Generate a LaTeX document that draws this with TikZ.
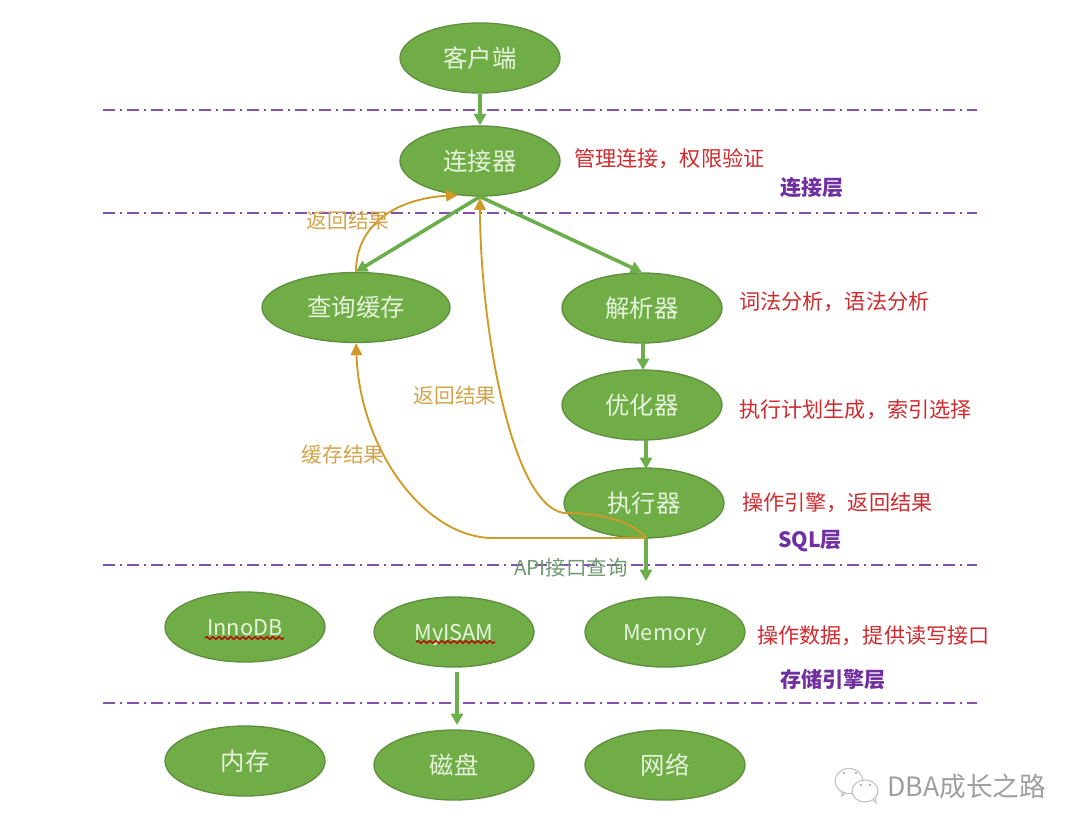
\documentclass[tikz,border=0pt]{standalone}
\usepackage{fontspec}
\setmainfont{Noto Sans CJK SC}
\usetikzlibrary{arrows.meta,decorations.pathmorphing,shapes.geometric}
\definecolor{gfill}{HTML}{70AD47}
\definecolor{gedge}{HTML}{5F8F3E}
\definecolor{gtext}{HTML}{E6F3DC}
\definecolor{garrow}{HTML}{6DAE4C}
\definecolor{orng}{HTML}{CF9A26}
\definecolor{orngt}{HTML}{D2A34A}
\definecolor{purp}{HTML}{7030A0}
\definecolor{redt}{HTML}{CF2A2E}
\definecolor{apit}{HTML}{6F9A72}
\tikzset{
  x=0.75pt,y=-0.75pt,
  ell/.style={ellipse,draw=gedge,fill=gfill,line width=1pt,text=gtext,inner sep=0pt,minimum height=52.5pt,minimum width=120pt,font=\fontsize{18.3}{20}\selectfont},
  wide/.style={minimum width=141pt},
  latin/.style={font=\fontsize{16.3}{20}\selectfont},
  sep/.style={draw=purp!85,line width=1pt,dash pattern=on 9pt off 3.5pt on 2pt off 3.5pt},
  flow/.style={draw=garrow,line width=2.7pt,-{Triangle[length=8.5pt,width=9pt]}},
  back/.style={draw=orng,line width=1.4pt,-{Triangle[length=9pt,width=8.5pt]}},
  note/.style={text=redt,inner sep=0pt,font=\fontsize{15.85}{17}\selectfont},
  layer/.style={text=purp,inner sep=0pt,font=\fontsize{15.8}{17}\selectfont\bfseries},
  ret/.style={text=orngt,inner sep=0pt,font=\fontsize{15.5}{17}\selectfont},
  squig/.style={draw=red!75!black,line width=1pt,decorate,decoration={snake,amplitude=1pt,segment length=4.5pt}},
}
\begin{document}
\begin{tikzpicture}
\useasboundingbox (0,0) rectangle (1080,834);
% separators
\coordinate (s1l) at (103,110); \coordinate (s1r) at (977,110);
\coordinate (s2l) at (103,213); \coordinate (s2r) at (977,213);
\coordinate (s3l) at (103,565); \coordinate (s3r) at (977,565);
\coordinate (s4l) at (103,703); \coordinate (s4r) at (977,703);
\draw[sep] (s1l) -- (s1r);
\draw[sep] (s2l) -- (s2r);
\draw[sep] (s3l) -- (s3r);
\draw[sep] (s4l) -- (s4r);
% nodes
\node[ell] (client) at (480,58) {客户端};
\node[ell] (conn) at (480,161) {连接器};
\node[ell,wide] (cache) at (356,307.5) {查询缓存};
\node[ell] (parser) at (642,308) {解析器};
\node[ell] (opt) at (642,405) {优化器};
\node[ell] (exec) at (644,503) {执行器};
\node[ell,latin] (inno) at (245,627) {\raisebox{-6.5pt}[0pt][0pt]{InnoDB}};
\node[ell,latin] (myisam) at (454,632) {\raisebox{-6pt}[0pt][0pt]{MyISAM}};
\node[ell,latin] (memory) at (665,632) {\raisebox{-6pt}[0pt][0pt]{Memory}};
\node[ell] (ram) at (245,761) {内存};
\node[ell] (disk) at (454,765) {磁盘};
\node[ell] (net) at (665,765) {网络};
% squiggles
\coordinate (i1) at (205,638); \coordinate (i2) at (284,638);
\coordinate (m1) at (416,642); \coordinate (m2) at (495,642);
\draw[squig] (i1) -- (i2);
\draw[squig] (m1) -- (m2);
% green arrows
\coordinate (apiend) at (646,581);
\coordinate (execb) at (646,538);
\coordinate (mystart) at (457,672);
\coordinate (diskt) at (457,725);
\coordinate (pb) at (643,343); \coordinate (ot) at (643,370);
\coordinate (ob) at (646,440); \coordinate (et) at (646,469);
\draw[flow] (client) -- (conn);
\draw[flow] (conn.south) -- (cache.north);
\draw[flow] (conn.south) -- (parser.north);
\draw[flow] (pb) -- (ot);
\draw[flow] (ob) -- (et);
\draw[flow] (execb) -- (apiend);
\draw[flow] (mystart) -- (diskt);
% orange curves
\coordinate (ret1) at (458,195);
\coordinate (ret2) at (480,198);
\draw[back] (cache.north) .. controls (356,225) and (395,199) .. (ret1);
\draw[back] (execb) .. controls (630,520) and (600,513) .. (564,513) .. controls (510,505) and (480,320) .. (ret2);
\draw[back] (execb) -- (493,538) .. controls (425,538) and (360,450) .. (cache.south);
% labels
\node[note,anchor=west] (n1) at (574,159) {管理连接，权限验证};
\node[note,anchor=west] (n2) at (739,302) {词法分析，语法分析};
\node[note,anchor=west] (n3) at (739,410) {执行计划生成，索引选择};
\node[note,anchor=west] (n4) at (742,503) {操作引擎，返回结果};
\node[note,anchor=west] (n5) at (757,636) {操作数据，提供读写接口};
\node[layer] (l1) at (812,188) {连接层};
\node[layer] (l2) at (810,541) {SQL层};
\node[layer] (l3) at (833,680) {存储引擎层};
\node[ret] (r1) at (348,221) {返回结果};
\node[ret] (r2) at (455,396) {返回结果};
\node[ret] (r3) at (343,455) {缓存结果};
\node[text=apit,inner sep=0pt,font=\fontsize{15.4}{17}\selectfont] (api) at (571,568) {API接口查询};
% watermark
\begin{scope}[draw=black!25,fill=white,line width=0.8pt]
\draw (842,788) -- (842,796) -- (850,790);
\draw[fill=white] (849,781) ellipse [x radius=14,y radius=12.5];
\draw (872,799) -- (876,803) -- (875,796);
\draw[fill=white] (865,791) ellipse [x radius=13,y radius=11];
\fill[black!30] (844,773) circle (1.3) (856,773) circle (1.3) (861,785) circle (1.3) (870,785) circle (1.3);
\end{scope}
\node[text=black!38,inner sep=0pt,font=\fontsize{20}{21}\selectfont,anchor=west] (wm) at (887,786) {DBA成长之路};
\end{tikzpicture}
\end{document}
